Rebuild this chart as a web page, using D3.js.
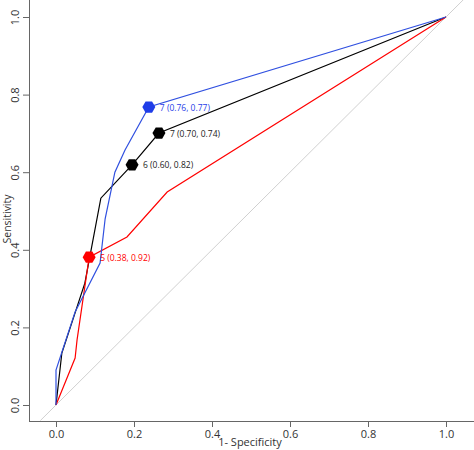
<!DOCTYPE html><html><head><meta charset="utf-8"><script src="https://cdn.jsdelivr.net/npm/d3@7"></script>
<style>body{margin:0;background:#fff}text{font-family:"Open Sans",sans-serif}</style></head><body>
<svg id="c" width="474" height="450"></svg>
<script>
const blueX=[0,0,0.049,0.113,0.126,0.151,0.177,0.238,1];
const blueY=[0,0.09,0.24,0.366,0.48,0.60,0.657,0.768,1];
const blackX=[0,0.015,0.074,0.115,0.195,0.264,1];
const blackY=[0,0.134,0.314,0.533,0.619,0.701,1];
const redX=[0,0.049,0.054,0.085,0.182,0.285,1];
const redY=[0,0.121,0.168,0.381,0.433,0.549,1];
const markers=[{x:0.238,y:0.768,c:"#1f3de8",t:"7 (0.76, 0.77)"},{x:0.264,y:0.701,c:"#000",t:"7 (0.70, 0.74)"},{x:0.195,y:0.619,c:"#000",t:"6 (0.60, 0.82)"},{x:0.085,y:0.381,c:"#ff0000",t:"5 (0.38, 0.92)"}];
const ticks=[0,0.2,0.4,0.6,0.8,1.0];
const svg=d3.select("#c");
const x=d3.scaleLinear().domain([0,1]).range([56,446]);
const y=d3.scaleLinear().domain([0,1]).range([405,17]);
const L=29,B=421;
svg.append("line").attr("x1",x(-0.04)).attr("y1",y(-0.04)).attr("x2",x(1.08)).attr("y2",y(1.08)).attr("stroke","#d0d0d0");
const ax=svg.append("g").attr("transform",`translate(0,${B})`).call(d3.axisBottom(x).tickValues(ticks).tickFormat(d3.format(".1f")).tickSize(6).tickSizeOuter(0));
ax.select(".domain").attr("d",`M${L},0.5H474`);
const ay=svg.append("g").attr("transform",`translate(${L},0)`).call(d3.axisLeft(y).tickValues(ticks).tickFormat(d3.format(".1f")).tickSize(6).tickSizeOuter(0));
ay.select(".domain").attr("d",`M0.5,0V${B}`);
[ax,ay].forEach(a=>{a.selectAll("text").attr("font-size",11).attr("fill","#333").attr("font-family","Open Sans");a.selectAll("line,path").attr("stroke","#666");});
ay.selectAll(".tick text").attr("transform","rotate(-90)").attr("text-anchor","middle").attr("x",0).attr("dy",0).attr("y",-10);
svg.append("text").attr("x",250).attr("y",446).attr("text-anchor","middle").attr("font-size",11).attr("fill","#333").text("1- Specificity");
svg.append("text").attr("transform","translate(11,219) rotate(-90)").attr("text-anchor","middle").attr("font-size",10.5).attr("fill","#333").text("Sensitivity");
const line=d3.line().x(d=>x(d[0])).y(d=>y(d[1]));
[[blackX,blackY,"#000"],[redX,redY,"#ff0000"],[blueX,blueY,"#3050e0"]].forEach(([X,Y,c])=>{
svg.append("path").attr("d",line(X.map((v,i)=>[v,Y[i]]))).attr("fill","none").attr("stroke",c).attr("stroke-width",1.2);});
const hex=r=>d3.range(6).map(i=>{const a=i*Math.PI/3;return [r*Math.cos(a),r*Math.sin(a)];});
markers.forEach(m=>{
svg.append("polygon").attr("points",hex(6.5).map(p=>[x(m.x)+p[0],y(m.y)+p[1]].join(",")).join(" ")).attr("fill",m.c);
svg.append("text").attr("x",x(m.x)+11).attr("y",y(m.y)+3.5).attr("font-size",8.5).attr("fill",m.c==="#000"?"#222":m.c).text(m.t);});
</script></body></html>
